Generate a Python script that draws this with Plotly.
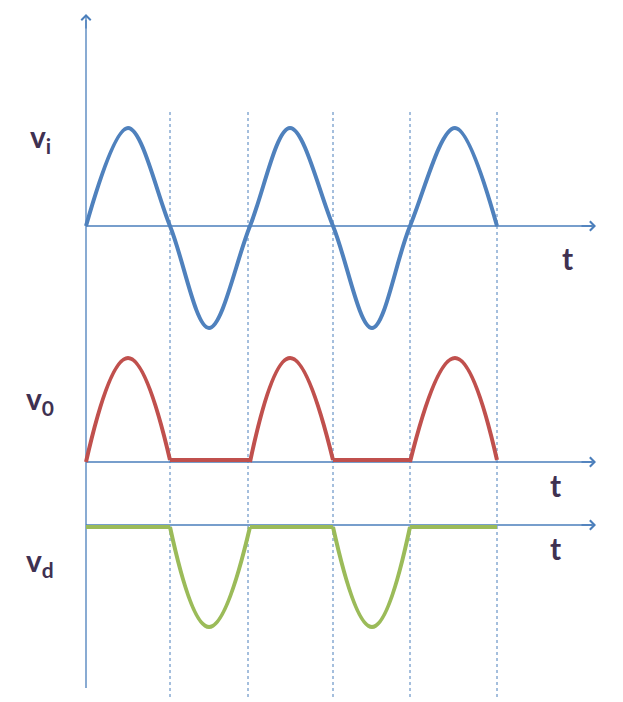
import plotly.graph_objects as go

# pixel-like coordinates (y grows downward)
vi_x = [86, 128, 170, 209, 250, 290, 333, 372, 410, 455, 497]
vi_y = [226, 128, 226, 328, 226, 128, 226, 328, 226, 128, 226]

v0_humps_x = [[86, 128, 170], [250, 290, 333], [410, 455, 497]]
v0_humps_y = [462, 358, 460]
v0_flat_x = [[170, 250], [333, 410]]
v0_flat_y = 460

vd_dips_x = [[170, 209, 250], [333, 372, 410]]
vd_dips_y = [527, 627, 527]
vd_flat_x = [[86, 170], [250, 333], [410, 497]]
vd_flat_y = 527

dotted_x = [170, 248, 333, 410, 497]
axes_y = [226, 462, 525]
labels = [("v", "i", 40, 138), ("v", "0", 40, 400), ("v", "d", 40, 562)]
t_pos = [(567, 258), (555, 485), (555, 548)]

BLUE = "#4f81bd"
RED = "#c0504d"
GREEN = "#9bbb59"
AXIS = "#4a7ebb"
TXT = "#3f3151"
SM = 1.3

fig = go.Figure()

for x in dotted_x:
    fig.add_trace(go.Scatter(x=[x, x], y=[112, 700], mode="lines",
                             line=dict(color=AXIS, width=1, dash="dot")))
fig.add_trace(go.Scatter(x=[86, 86], y=[688, 20], mode="lines", line=dict(color=AXIS, width=1.3)))
for y in axes_y:
    fig.add_trace(go.Scatter(x=[86, 592], y=[y, y], mode="lines", line=dict(color=AXIS, width=1.3)))

fig.add_trace(go.Scatter(x=vi_x, y=vi_y, mode="lines",
                         line=dict(color=BLUE, width=4, shape="spline", smoothing=1.0)))
for xs in v0_humps_x:
    fig.add_trace(go.Scatter(x=xs, y=v0_humps_y, mode="lines",
                             line=dict(color=RED, width=4, shape="spline", smoothing=SM)))
for xs in v0_flat_x:
    fig.add_trace(go.Scatter(x=xs, y=[v0_flat_y] * 2, mode="lines", line=dict(color=RED, width=4)))
for xs in vd_dips_x:
    fig.add_trace(go.Scatter(x=xs, y=vd_dips_y, mode="lines",
                             line=dict(color=GREEN, width=4, shape="spline", smoothing=SM)))
for xs in vd_flat_x:
    fig.add_trace(go.Scatter(x=xs, y=[vd_flat_y] * 2, mode="lines", line=dict(color=GREEN, width=4)))

# arrow heads
arrows = [(86, 14, 86, 30)] + [(596, y, 580, y) for y in axes_y]
for x, y, ax, ay in arrows:
    fig.add_annotation(x=x, y=y, ax=ax, ay=ay, xref="x", yref="y", axref="x", ayref="y",
                       showarrow=True, arrowhead=4, arrowsize=1.4, arrowwidth=1.3,
                       arrowcolor=AXIS, text="")

for v, sub, x, y in labels:
    fig.add_annotation(x=x, y=y, xref="x", yref="y", showarrow=False,
                       text=f"<b>{v}<sub>{sub}</sub></b>",
                       font=dict(family="Lato", size=30, color=TXT))
for x, y in t_pos:
    fig.add_annotation(x=x, y=y, xref="x", yref="y", showarrow=False, text="<b>t</b>",
                       font=dict(family="Lato", size=30, color=TXT))

# page body adds an 8px offset, so shift the ranges to compensate
fig.update_layout(width=623, height=702, margin=dict(l=0, r=0, t=0, b=0),
                  plot_bgcolor="white", paper_bgcolor="white", showlegend=False)
fig.update_xaxes(range=[8, 631], visible=False)
fig.update_yaxes(range=[710, 8], visible=False)

fig.write_html("out.html")
